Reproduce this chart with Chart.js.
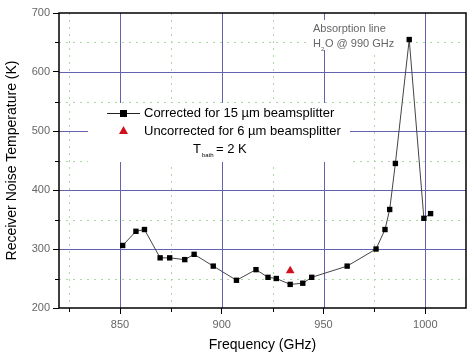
<!DOCTYPE html>
<html>
<head>
<meta charset="utf-8">
<script src="https://cdn.jsdelivr.net/npm/chart.js@4"></script>
<style>
  html, body { margin: 0; padding: 0; background: #fff; }
  #wrap { width: 474px; height: 358px; }
</style>
</head>
<body>
<div id="wrap"><canvas id="noiseChart" width="474" height="358"></canvas></div>
<script>
// Corrected for 15 um beamsplitter
const freqCorrected = [851.3, 857.8, 862, 869.7, 874.4, 881.8, 886.4, 895.8, 907.2, 916.8, 922.7, 926.8, 933.6, 939.8, 944.2, 961.6, 975.8, 980.2, 982.5, 985.3, 992.1, 999.3, 1002.6];
const tempCorrected = [306, 330, 333, 285, 285, 282, 291, 271, 247, 265, 252, 250, 240, 242, 252, 271, 300, 333, 367, 445, 655, 352, 360];
// Uncorrected for 6 um beamsplitter
const freqUncorrected = [933.6];
const tempUncorrected = [263];

const xTicks = [850, 900, 950, 1000];
const yTicks = [200, 300, 400, 500, 600, 700];

const FONT = '"Liberation Sans", Arial, sans-serif';

// custom grid, legend box and annotation
const decorPlugin = {
    id: 'decor',
    beforeDatasetsDraw(chart) {
        const { ctx, chartArea: a, scales: { x, y } } = chart;
        ctx.save();
        // minor grid (dotted green)
        ctx.strokeStyle = '#a8d8a0';
        ctx.lineWidth = 1;
        ctx.setLineDash([2, 5]);
        for (let v = 825; v <= 1020; v += 50) {
            const px = Math.round(x.getPixelForValue(v)) + 0.5;
            ctx.beginPath(); ctx.moveTo(px, a.top); ctx.lineTo(px, a.bottom); ctx.stroke();
        }
        for (let v = 250; v < 700; v += 100) {
            const py = Math.round(y.getPixelForValue(v)) + 0.5;
            ctx.beginPath(); ctx.moveTo(a.left, py); ctx.lineTo(a.right, py); ctx.stroke();
        }
        // major grid (solid blue)
        ctx.setLineDash([]);
        ctx.strokeStyle = '#6262b0';
        xTicks.forEach(v => {
            const px = Math.round(x.getPixelForValue(v)) + 0.5;
            ctx.beginPath(); ctx.moveTo(px, a.top); ctx.lineTo(px, a.bottom); ctx.stroke();
        });
        yTicks.slice(1, -1).forEach(v => {
            const py = Math.round(y.getPixelForValue(v)) + 0.5;
            ctx.beginPath(); ctx.moveTo(a.left, py); ctx.lineTo(a.right, py); ctx.stroke();
        });
        // white boxes behind legend and annotation
        ctx.fillStyle = '#fff';
        ctx.fillRect(88, 103, 262, 59);
        ctx.fillRect(311, 20, 93, 30);
        ctx.restore();
    },
    afterDraw(chart) {
        const { ctx, chartArea: a, scales: { x, y } } = chart;
        ctx.save();
        // frame
        ctx.strokeStyle = '#000';
        ctx.lineWidth = 1.5;
        ctx.strokeRect(a.left, a.top, a.right - a.left, a.bottom - a.top);

        // minor tick marks
        ctx.lineWidth = 1;
        for (let v = 825; v <= 1020; v += 50) {
            const px = Math.round(x.getPixelForValue(v)) + 0.5;
            ctx.beginPath(); ctx.moveTo(px, a.bottom); ctx.lineTo(px, a.bottom + 4); ctx.stroke();
        }
        for (let v = 250; v < 700; v += 100) {
            const py = Math.round(y.getPixelForValue(v)) + 0.5;
            ctx.beginPath(); ctx.moveTo(a.left, py); ctx.lineTo(a.left - 4, py); ctx.stroke();
        }

        // legend
        const ds = chart.data.datasets;
        ctx.textBaseline = 'middle';
        ctx.font = '13px ' + FONT;
        ctx.strokeStyle = '#222';
        ctx.beginPath(); ctx.moveTo(107, 113.5); ctx.lineTo(140, 113.5); ctx.stroke();
        ctx.fillStyle = '#000';
        ctx.fillRect(120, 110, 7, 7);
        ctx.fillText(ds[0].label, 144, 113);
        ctx.fillStyle = '#d0101a';
        ctx.beginPath(); ctx.moveTo(123.5, 126); ctx.lineTo(128, 134); ctx.lineTo(119, 134); ctx.closePath(); ctx.fill();
        ctx.fillStyle = '#000';
        ctx.fillText(ds[1].label, 144, 131);
        ctx.fillText('T', 193, 149);
        ctx.font = '6px ' + FONT;
        ctx.fillText('bath', 202, 155);
        ctx.font = '13px ' + FONT;
        ctx.fillText('= 2 K', 216, 149);

        // absorption annotation
        ctx.fillStyle = '#666';
        ctx.font = '11px ' + FONT;
        ctx.fillText('Absorption line', 313, 29);
        ctx.fillText('H', 313, 44);
        ctx.font = '6px ' + FONT;
        ctx.fillText('2', 321, 49);
        ctx.font = '11px ' + FONT;
        ctx.fillText('O @ 990 GHz', 325, 44);
        ctx.restore();
    }
};

const ctx = document.getElementById('noiseChart').getContext('2d');
new Chart(ctx, {
    type: 'scatter',
    data: {
        datasets: [{
            label: 'Corrected for 15 \u00b5m beamsplitter',
            data: freqCorrected.map((f, i) => ({ x: f, y: tempCorrected[i] })),
            showLine: true,
            borderColor: '#444',
            borderWidth: 1,
            pointStyle: 'rect',
            pointRadius: 3.8,
            pointBackgroundColor: '#000',
            pointBorderColor: '#000',
            pointBorderWidth: 0
        }, {
            label: 'Uncorrected for 6 \u00b5m beamsplitter',
            data: freqUncorrected.map((f, i) => ({ x: f, y: tempUncorrected[i] })),
            showLine: false,
            pointStyle: 'triangle',
            pointRadius: 5,
            pointBackgroundColor: '#d0101a',
            pointBorderColor: '#d0101a',
            pointBorderWidth: 0
        }]
    },
    options: {
        responsive: false,
        animation: false,
        layout: { padding: { top: 13, right: 8, left: 0, bottom: 0 } },
        plugins: {
            legend: { display: false },
            tooltip: { enabled: false }
        },
        scales: {
            x: {
                type: 'linear',
                min: 820,
                max: 1020,
                afterBuildTicks: s => { s.ticks = xTicks.map(v => ({ value: v })); },
                afterFit: s => { s.height = 50; },
                grid: { drawOnChartArea: false, drawTicks: true, tickLength: 6, color: '#000' },
                border: { display: false },
                ticks: { color: '#666', font: { family: FONT, size: 11 }, padding: 4, callback: v => String(v) },
                title: { display: true, text: 'Frequency (GHz)', color: '#000', font: { family: FONT, size: 14 }, padding: { top: 4 } }
            },
            y: {
                min: 200,
                max: 700,
                afterBuildTicks: s => { s.ticks = yTicks.map(v => ({ value: v })); },
                afterFit: s => { s.width = 59; },
                grid: { drawOnChartArea: false, drawTicks: true, tickLength: 6, color: '#000' },
                border: { display: false },
                ticks: { color: '#666', font: { family: FONT, size: 11 }, padding: 3, callback: v => String(v) },
                title: { display: true, text: 'Receiver Noise Temperature (K)', color: '#000', font: { family: FONT, size: 14 }, padding: { bottom: 2 } }
            }
        }
    },
    plugins: [decorPlugin]
});
</script>
</body>
</html>
